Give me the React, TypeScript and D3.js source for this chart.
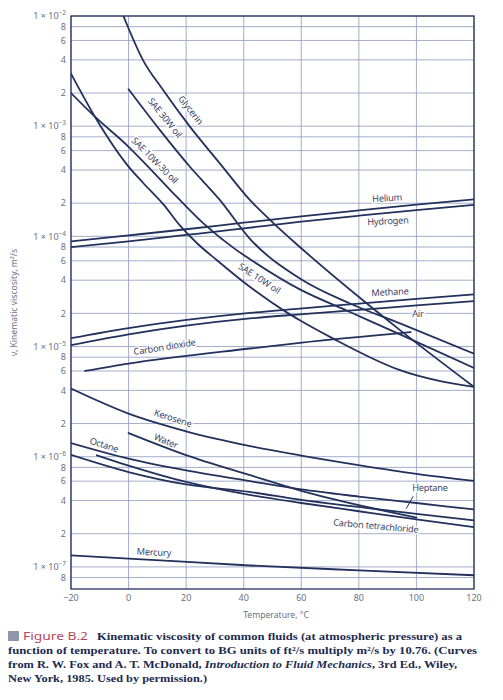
import React from "react"
import * as d3 from "d3"

// [temperature °C, kinematic viscosity m²/s]
type Pt = [number, number]

const glycerin: Pt[] = [
  [-1.8, 1.0e-2], [5, 3.98e-3], [12, 2.13e-3], [21.3, 9.9e-4], [31.7, 4.6e-4],
  [42.2, 2.13e-4], [50.3, 1.32e-4], [59.5, 8.0e-5], [81.4, 2.63e-5], [94.3, 1.41e-5], [120, 4.3e-6],
]
const sae30w: Pt[] = [
  [0, 2.16e-3], [10.9, 9.2e-4], [21.3, 4.28e-4], [31.75, 2.13e-4], [42, 9.6e-5],
  [59.5, 4.15e-5], [76.9, 2.46e-5], [94.3, 1.62e-5], [120, 8.6e-6],
]
const sae10w30: Pt[] = [
  [-20, 2.0e-3], [-11.7, 1.22e-3], [0, 6.5e-4], [5, 4.8e-4], [16.7, 2.29e-4], [26, 1.31e-4],
  [37.5, 7.5e-5], [42.2, 6.2e-5], [59.5, 3.3e-5], [76.9, 2.06e-5], [94.3, 1.29e-5], [120, 6.4e-6],
]
const sae10w: Pt[] = [
  [-20, 3.0e-3], [-11.7, 1.22e-3], [0, 4.3e-4], [5.1, 3.05e-4], [12.1, 1.95e-4], [17.9, 1.25e-4],
  [23.7, 8.7e-5], [30.6, 6.1e-5], [42, 3.5e-5], [53.7, 2.14e-5], [59.5, 1.73e-5], [71.1, 1.18e-5],
  [94.3, 6.1e-6], [120, 4.3e-6],
]
const helium: Pt[] = [
  [-20, 9.0e-5], [0, 1.02e-4], [20, 1.16e-4], [40, 1.33e-4], [60, 1.52e-4], [80, 1.72e-4], [100, 1.94e-4], [120, 2.17e-4],
]
const hydrogen: Pt[] = [
  [-20, 8.0e-5], [0, 9.0e-5], [20, 1.03e-4], [40, 1.18e-4], [60, 1.36e-4], [80, 1.54e-4], [100, 1.73e-4], [120, 1.93e-4],
]
const methane: Pt[] = [
  [-20, 1.19e-5], [0, 1.47e-5], [42.2, 2.02e-5], [59.5, 2.21e-5], [80, 2.45e-5], [100, 2.71e-5], [120, 2.98e-5],
]
const air: Pt[] = [
  [-20, 1.03e-5], [0, 1.29e-5], [42.2, 1.8e-5], [59.5, 1.96e-5], [80, 2.15e-5], [100, 2.36e-5], [120, 2.58e-5],
]
const carbonDioxide: Pt[] = [
  [-15.1, 6.0e-6], [0, 7.0e-6], [42.2, 9.6e-6], [59.5, 1.08e-5], [98, 1.35e-5],
]
const kerosene: Pt[] = [
  [-20, 4.15e-6], [0, 2.46e-6], [20, 1.7e-6], [42.2, 1.25e-6], [59.5, 1.03e-6], [80.4, 8.36e-7], [100, 7.0e-7], [120, 6.03e-7],
]
const water: Pt[] = [
  [0, 1.64e-6], [20.2, 1.03e-6], [42.2, 6.8e-7], [60, 4.9e-7], [80, 3.63e-7], [100, 2.8e-7],
]
const octane: Pt[] = [
  [-20, 1.33e-6], [0, 9.6e-7], [20, 7.5e-7], [42.2, 6.0e-7], [60, 5.05e-7], [80, 4.35e-7], [100, 3.8e-7], [120, 3.32e-7],
]
const heptane: Pt[] = [
  [-20, 1.04e-6], [0, 7.26e-7], [20, 5.6e-7], [42, 4.8e-7], [60, 4.05e-7], [80, 3.5e-7], [100, 3.03e-7], [120, 2.64e-7],
]
const carbonTet: Pt[] = [
  [-11, 1.03e-6], [0, 8.3e-7], [20, 5.9e-7], [42, 4.5e-7], [60, 3.8e-7], [80, 3.2e-7], [100, 2.7e-7], [120, 2.3e-7],
]
const mercury: Pt[] = [
  [-20, 1.27e-7], [0, 1.19e-7], [42.2, 1.03e-7], [80, 9.3e-8], [120, 8.4e-8],
]

const curves = [
  glycerin, sae30w, sae10w30, sae10w, helium, hydrogen, methane, air,
  carbonDioxide, kerosene, water, octane, heptane, carbonTet, mercury,
]

const tempTicks = [-20, 0, 20, 40, 60, 80, 100, 120]
const mantissas = [1, 2, 4, 6, 8]
const exponents = [-8, -7, -6, -5, -4, -3, -2]

const curveLabels = [
  { text: "Glycerin", t: 21.6, v: 1.40e-3, angle: 52 },
  { text: "SAE 30W oil", t: 12.7, v: 1.19e-3, angle: 51 },
  { text: "SAE 10W-30 oil", t: 9.1, v: 4.9e-4, angle: 45 },
  { text: "SAE 10W oil", t: 45.5, v: 4.15e-5, angle: 33 },
  { text: "Helium", t: 89.8, v: 2.23e-4, angle: -3 },
  { text: "Hydrogen", t: 90.1, v: 1.38e-4, angle: -3 },
  { text: "Methane", t: 90.8, v: 3.13e-5, angle: -3 },
  { text: "Air", t: 100.5, v: 2.0e-5, angle: 0 },
  { text: "Carbon dioxide", t: 12.5, v: 9.9e-6, angle: -9 },
  { text: "Kerosene", t: 15.4, v: 2.24e-6, angle: 18 },
  { text: "Water", t: 13, v: 1.39e-6, angle: 22 },
  { text: "Octane", t: -8.5, v: 1.28e-6, angle: 18 },
  { text: "Heptane", t: 104.7, v: 5.2e-7, angle: 0 },
  { text: "Carbon tetrachloride", t: 85.9, v: 2.35e-7, angle: 5 },
  { text: "Mercury", t: 8.8, v: 1.36e-7, angle: 3 },
]

// short leader from the Heptane label to its curve
const heptanePointer: Pt[] = [[98.8, 4.34e-7], [96.5, 3.4e-7]]

const W = 503
const H = 700
const PLOT = { left: 71, right: 474, top: 16, bottom: 589 }
const INK = "#23325c"
const GRID = "#9aa3c5"
const TICK = "#6b7085"
const SANS = "'Noto Sans', 'Open Sans', sans-serif"
const SERIF = "'Liberation Serif', 'DejaVu Serif', serif"

export default function App() {
  const x = d3.scaleLinear().domain([-20, 120]).range([PLOT.left, PLOT.right])
  const y = d3.scaleLog().domain([6.3e-8, 1e-2]).range([PLOT.bottom, PLOT.top])

  const line = d3
    .line<Pt>()
    .x((d) => x(d[0]))
    .y((d) => y(d[1]))
    .curve(d3.curveMonotoneX)

  const [lo, hi] = y.domain()
  const yTicks: { v: number; m: number; e: number }[] = []
  exponents.forEach((e) =>
    mantissas.forEach((m) => {
      const v = m * Math.pow(10, e)
      if (v >= lo * 0.9999 && v <= hi * 1.0001) yTicks.push({ v, m, e })
    })
  )

  return (
    <div style={{ position: "absolute", left: 0, top: 0 }}>
      <svg width={W} height={H} style={{ display: "block", background: "#fff" }}>
        <defs>
          <clipPath id="plot-clip">
            <rect x={PLOT.left} y={PLOT.top} width={PLOT.right - PLOT.left} height={PLOT.bottom - PLOT.top} />
          </clipPath>
        </defs>

        {/* grid */}
        <g stroke={GRID} strokeWidth={0.9}>
          {yTicks.map((d) => (
            <line key={`h${d.v}`} x1={PLOT.left} x2={PLOT.right} y1={y(d.v)} y2={y(d.v)} />
          ))}
          {tempTicks.map((t) => (
            <line key={`v${t}`} x1={x(t)} x2={x(t)} y1={PLOT.top} y2={PLOT.bottom} />
          ))}
        </g>

        {/* curves */}
        <g clipPath="url(#plot-clip)" fill="none" stroke={INK} strokeWidth={1.8} strokeLinecap="round">
          {curves.map((c, i) => (
            <path key={i} d={line(c) ?? ""} />
          ))}
          <path d={d3.line<Pt>().x((d) => x(d[0])).y((d) => y(d[1]))(heptanePointer) ?? ""} strokeWidth={1} />
        </g>

        {/* curve labels */}
        <g fontFamily={SANS} fontSize={9.2} fill="#3a4568" textAnchor="middle">
          {curveLabels.map((l) => (
            <text
              key={l.text}
              transform={`translate(${x(l.t)},${y(l.v)}) rotate(${l.angle})`}
              dy="0.35em"
              stroke="#fff"
              strokeWidth={2.6}
              paintOrder="stroke"
              letterSpacing={-0.2}
            >
              {l.text}
            </text>
          ))}
        </g>

        {/* frame */}
        <rect
          x={PLOT.left}
          y={PLOT.top}
          width={PLOT.right - PLOT.left}
          height={PLOT.bottom - PLOT.top}
          fill="none"
          stroke={INK}
          strokeWidth={1.3}
        />

        {/* y tick labels */}
        <g fontFamily={SANS} fontSize={9} fill={TICK} textAnchor="end">
          {yTicks.map((d) =>
            d.m === 1 ? (
              <text key={`yl${d.v}`} x={66} y={y(d.v) + 3.2}>
                1 × 10
                <tspan dy={-4} fontSize={6.5}>{`−${-d.e}`}</tspan>
              </text>
            ) : (
              <text key={`yl${d.v}`} x={66} y={y(d.v) + 3.2}>
                {d.m}
              </text>
            )
          )}
        </g>

        {/* x tick labels */}
        <g fontFamily={SANS} fontSize={9} fill={TICK} textAnchor="middle">
          {tempTicks.map((t) => (
            <text key={`xl${t}`} x={x(t)} y={601}>
              {t < 0 ? `−${-t}` : t}
            </text>
          ))}
        </g>

        {/* axis titles */}
        <text x={276} y={618} fontFamily={SANS} fontSize={8.6} fill={TICK} textAnchor="middle">
          Temperature, °C
        </text>
        <text
          transform={`translate(17,${(PLOT.top + PLOT.bottom) / 2}) rotate(-90)`}
          fontFamily={SANS}
          fontSize={8.6}
          fill={TICK}
          textAnchor="middle"
        >
          ν, Kinematic viscosity, m²/s
        </text>

        {/* caption */}
        <rect x={8} y={631} width={11} height={10} fill="#8f95ad" />
        <text x={23} y={640} fontFamily={SANS} fontSize={11} fill="#b5475f" textLength={65} lengthAdjust="spacingAndGlyphs">
          Figure B.2
        </text>
        <g fontFamily={SERIF} fontWeight="bold" fontSize={11} fill="#1c2a4e">
          <text x={97} y={640} textLength={365} lengthAdjust="spacingAndGlyphs">
            Kinematic viscosity of common fluids (at atmospheric pressure) as a
          </text>
          <text x={8} y={654} textLength={469} lengthAdjust="spacingAndGlyphs">
            function of temperature. To convert to BG units of ft²/s multiply m²/s by 10.76. (Curves
          </text>
          <text x={8} y={668} textLength={449} lengthAdjust="spacingAndGlyphs">
            from R. W. Fox and A. T. McDonald, <tspan fontStyle="italic">Introduction to Fluid Mechanics</tspan>, 3rd Ed., Wiley,
          </text>
          <text x={8} y={682} textLength={199} lengthAdjust="spacingAndGlyphs">
            New York, 1985. Used by permission.)
          </text>
        </g>
      </svg>
    </div>
  )
}
